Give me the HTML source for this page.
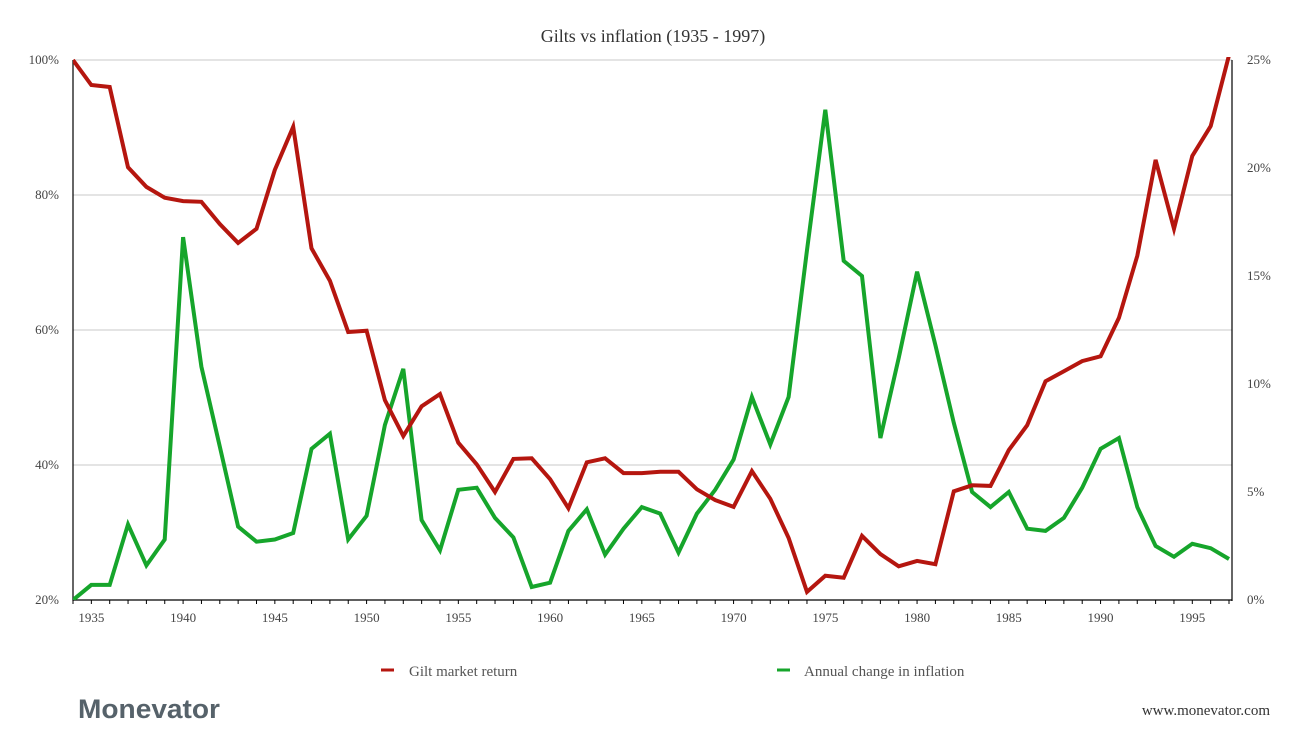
<!DOCTYPE html>
<html><head><meta charset="utf-8">
<style>
body{margin:0;background:#fff;}
svg{display:block;font-family:"Liberation Serif",serif;}
</style></head>
<body>
<svg id="chart" width="1315" height="748" viewBox="0 0 1315 748">
  <text x="653" y="42" text-anchor="middle" font-size="18" fill="#333">Gilts vs inflation (1935 - 1997)</text>
  <g id="grid"></g>
  <g id="axes"></g>
  <g id="series"></g>
  <g>
    <g>
      <line x1="381" y1="670" x2="394" y2="670" stroke="#b5160f" stroke-width="3"/>
      <text x="409" y="676" font-size="15" fill="#555">Gilt market return</text>
    </g>
    <g>
      <line x1="777" y1="670" x2="790" y2="670" stroke="#16a52b" stroke-width="3"/>
      <text x="804" y="676" font-size="15" fill="#555">Annual change in inflation</text>
    </g>
  </g>
  <text x="78" y="718" font-family="Liberation Sans, sans-serif" font-weight="bold" font-size="27" fill="#56626a" textLength="142" lengthAdjust="spacingAndGlyphs">Monevator</text>
  <text x="1270" y="715" text-anchor="end" font-size="15" fill="#333">www.monevator.com</text>
</svg>
<script>
const startYear = 1934;
const endYear = 1997;
const giltReturn = [100,96.3,96.0,84.1,81.2,79.6,79.1,79.0,75.7,72.9,75.0,83.7,90.1,72.1,67.3,59.7,59.9,49.6,44.3,48.7,50.5,43.3,40.1,36.0,40.9,41.0,37.9,33.6,40.4,41.0,38.8,38.8,39.0,39.0,36.4,34.8,33.8,39.1,35.0,29.2,21.2,23.6,23.3,29.5,26.8,25.0,25.8,25.3,36.1,37.0,36.9,42.2,45.9,52.4,53.9,55.4,56.1,61.8,71.0,85.2,75.0,85.8,90.2,100.7];
const inflation = [0,0.7,0.7,3.5,1.6,2.8,16.8,10.8,7.1,3.4,2.7,2.8,3.1,7.0,7.7,2.8,3.9,8.1,10.7,3.7,2.3,5.1,5.2,3.8,2.9,0.6,0.8,3.2,4.2,2.1,3.3,4.3,4.0,2.2,4.0,5.1,6.5,9.4,7.2,9.4,16.2,22.7,15.7,15.0,7.5,11.2,15.2,11.8,8.2,5.0,4.3,5.0,3.3,3.2,3.8,5.2,7.0,7.5,4.3,2.5,2.0,2.6,2.4,1.9];
const leftTicks = [20,40,60,80,100];
const rightTicks = [0,5,10,15,20,25];
const xLabelYears = [1935,1940,1945,1950,1955,1960,1965,1970,1975,1980,1985,1990,1995];

const NS="http://www.w3.org/2000/svg";
const X0=73, X1=1229, Y0=600, Y1=60;
const xS=yr=>X0+(yr-startYear)*(X1-X0)/(endYear-startYear);
const yL=v=>Y0-(v-20)*(Y0-Y1)/80;
const yR=v=>Y0-v*(Y0-Y1)/25;
function mk(tag,attrs,parent){const e=document.createElementNS(NS,tag);for(const k in attrs)e.setAttribute(k,attrs[k]);parent.appendChild(e);return e;}
const grid=document.getElementById('grid'), axes=document.getElementById('axes'), series=document.getElementById('series');

leftTicks.forEach(t=>{
  if(t>20){const g=mk('line',{x1:X0,x2:1232,y1:yL(t),y2:yL(t),stroke:'#c8c8c8','stroke-width':1},grid);
  
  }
  const l=mk('text',{x:59,y:yL(t)+4,'text-anchor':'end','font-size':13,fill:'#444'},axes);
  l.textContent=t+'%';
  
  
});
rightTicks.forEach(t=>{
  const l=mk('text',{x:1247,y:yR(t)+4,'font-size':13,fill:'#444'},axes);
  l.textContent=t+'%';
  
  
});
mk('line',{x1:X0,x2:X0,y1:Y1,y2:Y0+1,stroke:'#000','stroke-width':1.2},axes);
mk('line',{x1:1232,x2:1232,y1:Y1,y2:Y0+1,stroke:'#000','stroke-width':1.2},axes);
mk('line',{x1:X0,x2:1232,y1:Y0,y2:Y0,stroke:'#000','stroke-width':1.2},axes);
for(let yr=startYear;yr<=endYear;yr++){
  mk('line',{x1:xS(yr),x2:xS(yr),y1:Y0,y2:Y0+4,stroke:'#000','stroke-width':1},axes);
}
xLabelYears.forEach(yr=>{
  const l=mk('text',{x:xS(yr),y:622,'text-anchor':'middle','font-size':13,fill:'#444'},axes);
  l.textContent=yr;
  
  
});
function line(vals,yf,color,name){
  const pts=vals.map((v,i)=>xS(startYear+i).toFixed(1)+','+yf(v).toFixed(1)).join(' ');
  const p=mk('polyline',{points:pts,fill:'none',stroke:color,'stroke-width':4,'stroke-linejoin':'miter'},series);
  
  
}
const clip=mk('clipPath',{id:'pc'},document.getElementById('chart'));
mk('rect',{x:X0,y:Y1-3,width:X1-X0+2,height:Y0-Y1+3},clip);
series.setAttribute('clip-path','url(#pc)');
line(inflation,yR,'#16a52b','inflation-line');
line(giltReturn,yL,'#b5160f','gilt-return-line');
</script>
</body></html>
